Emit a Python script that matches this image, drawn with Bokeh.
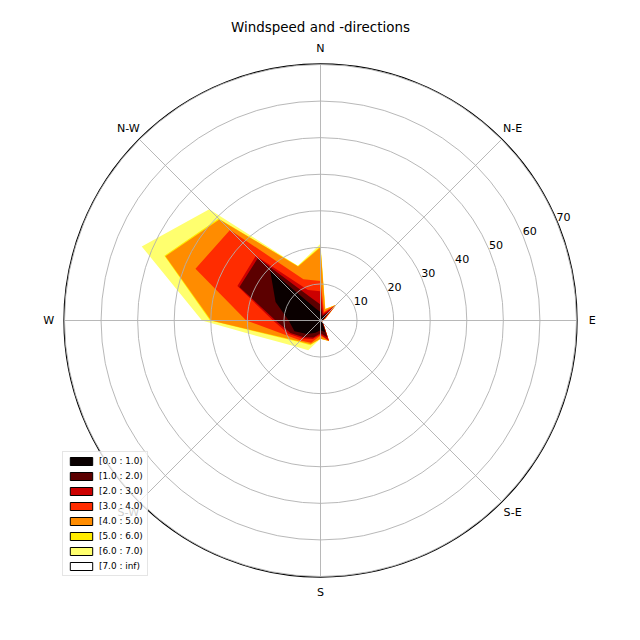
import numpy as np
from bokeh.core.properties import value
from bokeh.embed import file_html
from bokeh.models import Legend, LegendItem, Range1d
from bokeh.plotting import figure
from bokeh.resources import INLINE

TITLE = "Windspeed and -directions"
bearings = [0, 22.5, 45, 67.5, 90, 112.5, 135, 157.5, 180, 202.5, 225, 247.5, 270, 292.5, 315, 337.5]
compass_labels = ["N", "N-E", "E", "S-E", "S", "S-W", "W", "N-W"]
compass_bearings = [0, 45, 90, 135, 180, 225, 270, 315]
radial_ticks = [10, 20, 30, 40, 50, 60, 70]
bin_labels = ["[0.0 : 1.0)", "[1.0 : 2.0)", "[2.0 : 3.0)", "[3.0 : 4.0)",
              "[4.0 : 5.0)", "[5.0 : 6.0)", "[6.0 : 7.0)", "[7.0 : inf)"]
bin_colors = ["#0a0000", "#5c0000", "#cc0000", "#ff2c00", "#ff8c00", "#ffeb00", "#ffff6e", "#ffffff"]

# cumulative top of each stacked speed bin, per direction
upto_1 = [2.3, 1.0, 3.0, 0.8, 0.3, 0.2, 0.6, 3.5, 2.7, 3.6, 5.2, 7.7, 8.7, 13.3, 19.5, 3.6]
upto_2 = [4.4, 1.5, 4.0, 1.0, 0.4, 0.3, 0.8, 5.0, 3.5, 5.0, 6.5, 8.9, 12.3, 24.0, 24.2, 6.7]
upto_3 = [8.0, 2.0, 5.5, 1.2, 0.5, 0.4, 1.0, 6.0, 3.8, 5.5, 7.0, 9.5, 13.0, 24.6, 25.0, 9.0]
upto_4 = [10.8, 2.5, 6.0, 1.4, 0.5, 0.4, 1.0, 6.1, 4.1, 6.6, 7.7, 10.3, 20.3, 37.0, 35.0, 12.2]
upto_5 = [20.0, 3.3, 6.1, 1.5, 0.5, 0.4, 1.0, 6.1, 5.0, 7.0, 8.1, 11.8, 29.9, 45.9, 39.1, 16.0]
upto_6 = [20.3, 3.4, 6.1, 1.5, 0.5, 0.4, 1.0, 6.1, 5.0, 7.3, 8.3, 12.1, 30.2, 46.2, 39.4, 16.1]
upto_7 = [21.0, 3.5, 6.1, 1.5, 0.5, 0.4, 1.0, 6.1, 5.0, 8.8, 10.0, 14.2, 32.4, 52.9, 43.0, 16.2]
stack_tops = [upto_1, upto_2, upto_3, upto_4, upto_5, upto_6, upto_7]

PX_PER_UNIT = 256 / 70
W, H = 640, 640


def polar(r, bearing):
    a = np.radians(np.asarray(bearing, dtype=float))
    r = np.asarray(r, dtype=float)
    return r * np.sin(a), r * np.cos(a)


half = (W / 2) / PX_PER_UNIT
p = figure(width=W, height=H, output_backend="svg", toolbar_location=None,
           x_range=Range1d(-half, half), y_range=Range1d(-half, half),
           min_border=0, min_border_left=0, min_border_right=0,
           min_border_top=0, min_border_bottom=0,
           background_fill_color="white", border_fill_color="white",
           outline_line_color=None)
p.axis.visible = False
p.grid.visible = False

# stacked areas, largest first
for tops, color in reversed(list(zip(stack_tops, bin_colors))):
    x, y = polar(tops + tops[:1], bearings + bearings[:1])
    p.patch(x, y, fill_color=color, line_color=None)

# frame and grid
outer = radial_ticks[-1]
p.circle(x=[0], y=[0], radius=[outer + 0.15], fill_color=None, line_color="black", line_width=1.2)
p.circle(x=[0] * len(radial_ticks), y=[0] * len(radial_ticks), radius=radial_ticks,
         fill_color=None, line_color="#b0b0b0", line_width=0.9)
ex, ey = polar([outer] * len(compass_bearings), compass_bearings)
p.segment(x0=[0] * len(ex), y0=[0] * len(ey), x1=ex, y1=ey, line_color="#b0b0b0", line_width=0.9)

# texts
FONT = value("DejaVu Sans")
lx, ly = polar([outer + 4.3] * len(compass_bearings), compass_bearings)
p.text(x=lx, y=ly, text=compass_labels, text_align="center", text_baseline="middle",
       text_font=FONT, text_font_size="11.1px", text_color="black")
tx, ty = polar(radial_ticks, [67.5] * len(radial_ticks))
p.text(x=tx, y=ty, text=[str(t) for t in radial_ticks], text_align="center", text_baseline="middle",
       x_offset=6.5, y_offset=-6,
       text_font=FONT, text_font_size="11.1px", text_color="black")
p.text(x=[0], y=[(320 - 27) / PX_PER_UNIT], text=[TITLE], text_align="center", text_baseline="middle",
       text_font=FONT, text_font_size="13.45px", text_color="black")

# legend from proxy renderers
items = []
for label, color in zip(bin_labels, bin_colors):
    r = p.quad(left=[np.nan], right=[np.nan], bottom=[np.nan], top=[np.nan],
               fill_color=color, line_color="black", line_width=1)
    items.append(LegendItem(label=label, renderers=[r]))
legend = Legend(items=items, location=(62, 64), margin=0, padding=4, spacing=5,
                glyph_width=28, glyph_height=10, label_height=9, label_standoff=4,
                label_text_font="DejaVu Sans", label_text_font_size="8.9px",
                label_text_color="black", label_text_baseline="middle",
                background_fill_color="white", background_fill_alpha=0.8,
                border_line_color="#cccccc", border_line_width=1)
p.add_layout(legend, "center")

open("out.html", "w").write(file_html(p, INLINE))
